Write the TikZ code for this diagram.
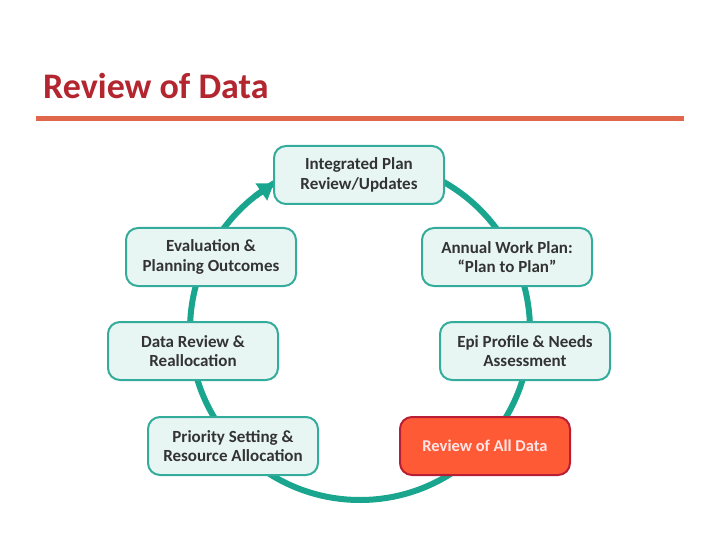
\documentclass[tikz,border=0pt]{standalone}
\usepackage{fontspec}
\setmainfont{Carlito}
\usetikzlibrary{arrows.meta,calc}
\definecolor{teal1}{HTML}{1AA68E}
\definecolor{boxfill}{HTML}{E8F6F3}
\definecolor{boxedge}{HTML}{34AC9C}
\definecolor{titlered}{HTML}{B3252F}
\definecolor{rulecol}{HTML}{E0674B}
\definecolor{redfill}{HTML}{FF5A36}
\definecolor{rededge}{HTML}{B81E35}
\definecolor{txt}{HTML}{333333}
\tikzset{
  stagebox/.style={draw=boxedge, line width=2pt, fill=boxfill, rounded corners=12pt,
    minimum width=170pt, minimum height=58pt, align=center, text=txt,
    font=\fontsize{17}{19.5}\selectfont\bfseries, inner sep=0pt},
  hotbox/.style={stagebox, draw=rededge, fill=redfill, text=white!90!red,
    font=\fontsize{16.5}{19}\selectfont\bfseries},
  cyc/.style={draw=teal1, line width=6pt}
}
\begin{document}
\begin{tikzpicture}[x=1pt,y=-1pt]
\useasboundingbox (0,0) rectangle (720,540);
\node[anchor=base west, text=titlered, font=\fontsize{36}{40}\selectfont\bfseries, inner sep=0pt] (title) at (43,99) {Review of Data};
\coordinate (rl) at (36,119);
\coordinate (rr) at (684,119);
\draw[rulecol, line width=5pt] (rl) -- (rr);
\coordinate (c) at (360,330);
\draw[cyc] (c) circle (170);
\draw[cyc, -{Triangle[width=20pt,length=15pt]}] ($(c)+(232:170)$) -- ($(c)+(239.5:170)$);
\node[stagebox] (ipr) at (359,175) {Integrated Plan\\Review/Updates};
\node[stagebox] (eval) at (211,257) {Evaluation \&\\Planning Outcomes};
\node[stagebox] (awp) at (507,257) {Annual Work Plan:\\“Plan to Plan”};
\node[stagebox] (drr) at (193,351) {Data Review \&\\Reallocation};
\node[stagebox] (epi) at (525,351) {Epi Profile \& Needs\\Assessment};
\node[stagebox] (prio) at (233,446) {Priority Setting \&\\Resource Allocation};
\node[hotbox] (rad) at (485,446) {Review of All Data};
\end{tikzpicture}
\end{document}
